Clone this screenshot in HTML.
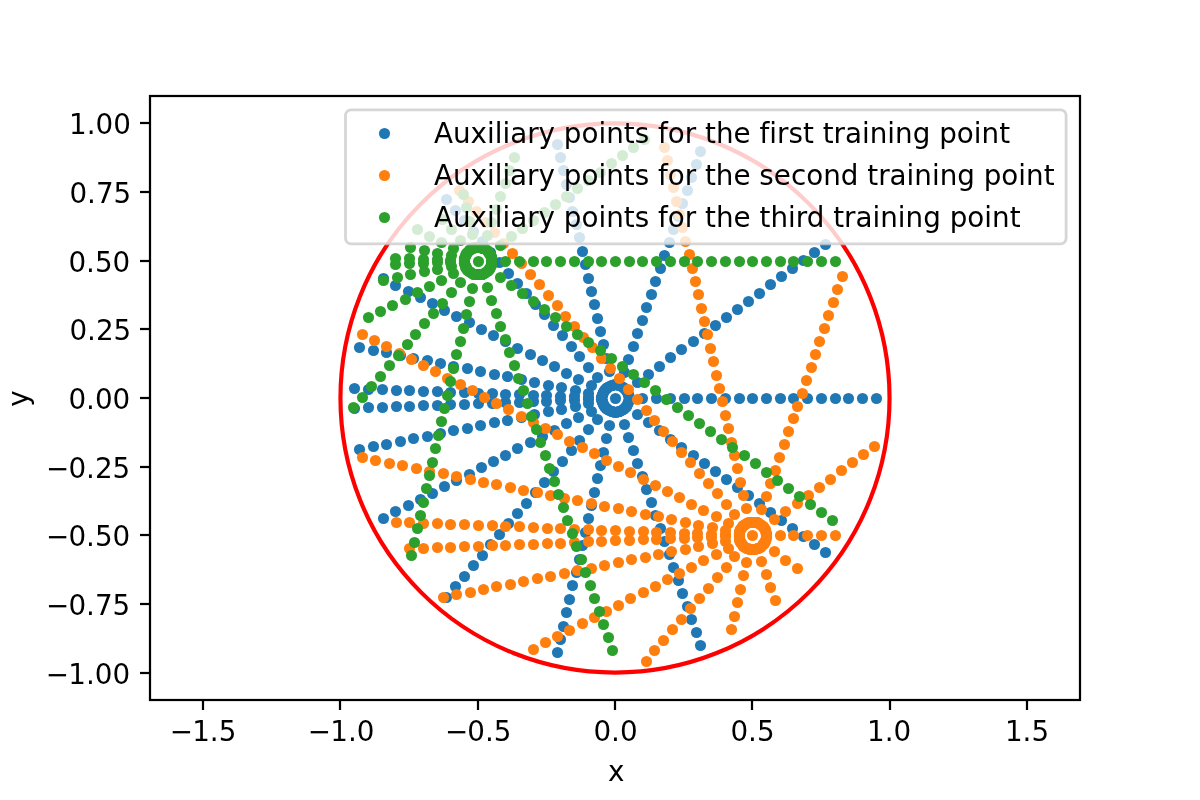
<!DOCTYPE html>
<html lang="en"><head><meta charset="utf-8"><title>Auxiliary points</title>
<style>html,body{margin:0;padding:0;background:#fff;}body{width:1200px;height:800px;overflow:hidden;}svg{display:block;}text{font-family:"DejaVu Sans","Liberation Sans",sans-serif;font-size:27.778px;fill:#000;font-variant-ligatures:none;font-feature-settings:"liga" 0,"clig" 0;}</style></head><body>
<svg width="1200" height="800" viewBox="0 0 1200 800">
<rect x="0" y="0" width="1200" height="800" fill="#ffffff"/>
<clipPath id="axclip"><rect x="150" y="96" width="930" height="604"/></clipPath>
<g clip-path="url(#axclip)">
<circle cx="614.996" cy="398.000" r="274.548" fill="none" stroke="#ff0000" stroke-width="4.167"/>
<g fill="#1f77b4">
<circle cx="629.5" cy="397.5" r="5.56"/>
<circle cx="628.5" cy="395.5" r="5.56"/>
<circle cx="628.5" cy="394.5" r="5.56"/>
<circle cx="627.5" cy="392.5" r="5.56"/>
<circle cx="626.5" cy="390.5" r="5.56"/>
<circle cx="625.5" cy="389.5" r="5.56"/>
<circle cx="624.5" cy="388.5" r="5.56"/>
<circle cx="623.5" cy="387.5" r="5.56"/>
<circle cx="621.5" cy="386.5" r="5.56"/>
<circle cx="619.5" cy="385.5" r="5.56"/>
<circle cx="618.5" cy="385.5" r="5.56"/>
<circle cx="616.5" cy="384.5" r="5.56"/>
<circle cx="614.5" cy="384.5" r="5.56"/>
<circle cx="612.5" cy="385.5" r="5.56"/>
<circle cx="611.5" cy="385.5" r="5.56"/>
<circle cx="609.5" cy="386.5" r="5.56"/>
<circle cx="607.5" cy="387.5" r="5.56"/>
<circle cx="606.5" cy="388.5" r="5.56"/>
<circle cx="605.5" cy="389.5" r="5.56"/>
<circle cx="604.5" cy="390.5" r="5.56"/>
<circle cx="603.5" cy="392.5" r="5.56"/>
<circle cx="602.5" cy="394.5" r="5.56"/>
<circle cx="602.5" cy="395.5" r="5.56"/>
<circle cx="601.5" cy="397.5" r="5.56"/>
<circle cx="601.5" cy="399.5" r="5.56"/>
<circle cx="602.5" cy="401.5" r="5.56"/>
<circle cx="602.5" cy="402.5" r="5.56"/>
<circle cx="603.5" cy="404.5" r="5.56"/>
<circle cx="604.5" cy="406.5" r="5.56"/>
<circle cx="605.5" cy="407.5" r="5.56"/>
<circle cx="606.5" cy="408.5" r="5.56"/>
<circle cx="607.5" cy="409.5" r="5.56"/>
<circle cx="609.5" cy="410.5" r="5.56"/>
<circle cx="611.5" cy="411.5" r="5.56"/>
<circle cx="612.5" cy="411.5" r="5.56"/>
<circle cx="614.5" cy="412.5" r="5.56"/>
<circle cx="616.5" cy="412.5" r="5.56"/>
<circle cx="618.5" cy="411.5" r="5.56"/>
<circle cx="619.5" cy="411.5" r="5.56"/>
<circle cx="621.5" cy="410.5" r="5.56"/>
<circle cx="623.5" cy="409.5" r="5.56"/>
<circle cx="624.5" cy="408.5" r="5.56"/>
<circle cx="625.5" cy="407.5" r="5.56"/>
<circle cx="626.5" cy="406.5" r="5.56"/>
<circle cx="627.5" cy="404.5" r="5.56"/>
<circle cx="628.5" cy="402.5" r="5.56"/>
<circle cx="628.5" cy="401.5" r="5.56"/>
<circle cx="629.5" cy="399.5" r="5.56"/>
<circle cx="615.5" cy="398.5" r="5.56"/>
<circle cx="601.5" cy="399.5" r="5.56"/>
<circle cx="588.5" cy="399.5" r="5.56"/>
<circle cx="574.5" cy="400.5" r="5.56"/>
<circle cx="560.5" cy="400.5" r="5.56"/>
<circle cx="546.5" cy="401.5" r="5.56"/>
<circle cx="533.5" cy="401.5" r="5.56"/>
<circle cx="519.5" cy="402.5" r="5.56"/>
<circle cx="505.5" cy="402.5" r="5.56"/>
<circle cx="492.5" cy="403.5" r="5.56"/>
<circle cx="478.5" cy="403.5" r="5.56"/>
<circle cx="464.5" cy="404.5" r="5.56"/>
<circle cx="450.5" cy="404.5" r="5.56"/>
<circle cx="437.5" cy="405.5" r="5.56"/>
<circle cx="423.5" cy="405.5" r="5.56"/>
<circle cx="409.5" cy="406.5" r="5.56"/>
<circle cx="396.5" cy="406.5" r="5.56"/>
<circle cx="382.5" cy="407.5" r="5.56"/>
<circle cx="368.5" cy="407.5" r="5.56"/>
<circle cx="354.5" cy="408.5" r="5.56"/>
<circle cx="602.5" cy="401.5" r="5.56"/>
<circle cx="588.5" cy="403.5" r="5.56"/>
<circle cx="575.5" cy="406.5" r="5.56"/>
<circle cx="561.5" cy="409.5" r="5.56"/>
<circle cx="548.5" cy="411.5" r="5.56"/>
<circle cx="534.5" cy="414.5" r="5.56"/>
<circle cx="521.5" cy="417.5" r="5.56"/>
<circle cx="507.5" cy="420.5" r="5.56"/>
<circle cx="494.5" cy="422.5" r="5.56"/>
<circle cx="480.5" cy="425.5" r="5.56"/>
<circle cx="467.5" cy="428.5" r="5.56"/>
<circle cx="453.5" cy="430.5" r="5.56"/>
<circle cx="440.5" cy="433.5" r="5.56"/>
<circle cx="427.5" cy="436.5" r="5.56"/>
<circle cx="413.5" cy="438.5" r="5.56"/>
<circle cx="400.5" cy="441.5" r="5.56"/>
<circle cx="386.5" cy="444.5" r="5.56"/>
<circle cx="373.5" cy="446.5" r="5.56"/>
<circle cx="359.5" cy="449.5" r="5.56"/>
<circle cx="603.5" cy="404.5" r="5.56"/>
<circle cx="591.5" cy="411.5" r="5.56"/>
<circle cx="578.5" cy="417.5" r="5.56"/>
<circle cx="566.5" cy="423.5" r="5.56"/>
<circle cx="554.5" cy="430.5" r="5.56"/>
<circle cx="542.5" cy="436.5" r="5.56"/>
<circle cx="530.5" cy="442.5" r="5.56"/>
<circle cx="517.5" cy="448.5" r="5.56"/>
<circle cx="505.5" cy="455.5" r="5.56"/>
<circle cx="493.5" cy="461.5" r="5.56"/>
<circle cx="481.5" cy="467.5" r="5.56"/>
<circle cx="469.5" cy="474.5" r="5.56"/>
<circle cx="456.5" cy="480.5" r="5.56"/>
<circle cx="444.5" cy="486.5" r="5.56"/>
<circle cx="432.5" cy="493.5" r="5.56"/>
<circle cx="420.5" cy="499.5" r="5.56"/>
<circle cx="408.5" cy="505.5" r="5.56"/>
<circle cx="395.5" cy="511.5" r="5.56"/>
<circle cx="383.5" cy="518.5" r="5.56"/>
<circle cx="606.5" cy="408.5" r="5.56"/>
<circle cx="597.5" cy="419.5" r="5.56"/>
<circle cx="588.5" cy="429.5" r="5.56"/>
<circle cx="579.5" cy="440.5" r="5.56"/>
<circle cx="571.5" cy="450.5" r="5.56"/>
<circle cx="562.5" cy="461.5" r="5.56"/>
<circle cx="553.5" cy="471.5" r="5.56"/>
<circle cx="544.5" cy="482.5" r="5.56"/>
<circle cx="535.5" cy="492.5" r="5.56"/>
<circle cx="526.5" cy="503.5" r="5.56"/>
<circle cx="517.5" cy="513.5" r="5.56"/>
<circle cx="508.5" cy="523.5" r="5.56"/>
<circle cx="499.5" cy="534.5" r="5.56"/>
<circle cx="490.5" cy="544.5" r="5.56"/>
<circle cx="482.5" cy="555.5" r="5.56"/>
<circle cx="473.5" cy="565.5" r="5.56"/>
<circle cx="464.5" cy="576.5" r="5.56"/>
<circle cx="455.5" cy="586.5" r="5.56"/>
<circle cx="446.5" cy="597.5" r="5.56"/>
<circle cx="612.5" cy="411.5" r="5.56"/>
<circle cx="609.5" cy="425.5" r="5.56"/>
<circle cx="606.5" cy="438.5" r="5.56"/>
<circle cx="603.5" cy="452.5" r="5.56"/>
<circle cx="600.5" cy="465.5" r="5.56"/>
<circle cx="597.5" cy="478.5" r="5.56"/>
<circle cx="594.5" cy="492.5" r="5.56"/>
<circle cx="591.5" cy="505.5" r="5.56"/>
<circle cx="588.5" cy="518.5" r="5.56"/>
<circle cx="585.5" cy="532.5" r="5.56"/>
<circle cx="582.5" cy="545.5" r="5.56"/>
<circle cx="579.5" cy="559.5" r="5.56"/>
<circle cx="576.5" cy="572.5" r="5.56"/>
<circle cx="572.5" cy="585.5" r="5.56"/>
<circle cx="569.5" cy="599.5" r="5.56"/>
<circle cx="566.5" cy="612.5" r="5.56"/>
<circle cx="563.5" cy="626.5" r="5.56"/>
<circle cx="560.5" cy="639.5" r="5.56"/>
<circle cx="557.5" cy="652.5" r="5.56"/>
<circle cx="619.5" cy="411.5" r="5.56"/>
<circle cx="624.5" cy="424.5" r="5.56"/>
<circle cx="628.5" cy="437.5" r="5.56"/>
<circle cx="633.5" cy="450.5" r="5.56"/>
<circle cx="637.5" cy="463.5" r="5.56"/>
<circle cx="642.5" cy="476.5" r="5.56"/>
<circle cx="646.5" cy="489.5" r="5.56"/>
<circle cx="651.5" cy="502.5" r="5.56"/>
<circle cx="655.5" cy="515.5" r="5.56"/>
<circle cx="660.5" cy="528.5" r="5.56"/>
<circle cx="664.5" cy="541.5" r="5.56"/>
<circle cx="669.5" cy="554.5" r="5.56"/>
<circle cx="673.5" cy="567.5" r="5.56"/>
<circle cx="678.5" cy="580.5" r="5.56"/>
<circle cx="682.5" cy="593.5" r="5.56"/>
<circle cx="687.5" cy="606.5" r="5.56"/>
<circle cx="691.5" cy="619.5" r="5.56"/>
<circle cx="696.5" cy="632.5" r="5.56"/>
<circle cx="700.5" cy="645.5" r="5.56"/>
<circle cx="626.5" cy="406.5" r="5.56"/>
<circle cx="637.5" cy="414.5" r="5.56"/>
<circle cx="648.5" cy="422.5" r="5.56"/>
<circle cx="659.5" cy="430.5" r="5.56"/>
<circle cx="670.5" cy="439.5" r="5.56"/>
<circle cx="681.5" cy="447.5" r="5.56"/>
<circle cx="693.5" cy="455.5" r="5.56"/>
<circle cx="704.5" cy="463.5" r="5.56"/>
<circle cx="715.5" cy="471.5" r="5.56"/>
<circle cx="726.5" cy="479.5" r="5.56"/>
<circle cx="737.5" cy="487.5" r="5.56"/>
<circle cx="748.5" cy="495.5" r="5.56"/>
<circle cx="759.5" cy="503.5" r="5.56"/>
<circle cx="770.5" cy="512.5" r="5.56"/>
<circle cx="781.5" cy="520.5" r="5.56"/>
<circle cx="792.5" cy="528.5" r="5.56"/>
<circle cx="803.5" cy="536.5" r="5.56"/>
<circle cx="814.5" cy="544.5" r="5.56"/>
<circle cx="825.5" cy="552.5" r="5.56"/>
<circle cx="629.5" cy="398.5" r="5.56"/>
<circle cx="642.5" cy="398.5" r="5.56"/>
<circle cx="656.5" cy="398.5" r="5.56"/>
<circle cx="670.5" cy="398.5" r="5.56"/>
<circle cx="684.5" cy="398.5" r="5.56"/>
<circle cx="697.5" cy="398.5" r="5.56"/>
<circle cx="711.5" cy="398.5" r="5.56"/>
<circle cx="725.5" cy="398.5" r="5.56"/>
<circle cx="739.5" cy="398.5" r="5.56"/>
<circle cx="752.5" cy="398.5" r="5.56"/>
<circle cx="766.5" cy="398.5" r="5.56"/>
<circle cx="780.5" cy="398.5" r="5.56"/>
<circle cx="793.5" cy="398.5" r="5.56"/>
<circle cx="807.5" cy="398.5" r="5.56"/>
<circle cx="821.5" cy="398.5" r="5.56"/>
<circle cx="835.5" cy="398.5" r="5.56"/>
<circle cx="848.5" cy="398.5" r="5.56"/>
<circle cx="862.5" cy="398.5" r="5.56"/>
<circle cx="876.5" cy="398.5" r="5.56"/>
<circle cx="626.5" cy="390.5" r="5.56"/>
<circle cx="637.5" cy="382.5" r="5.56"/>
<circle cx="648.5" cy="374.5" r="5.56"/>
<circle cx="659.5" cy="366.5" r="5.56"/>
<circle cx="670.5" cy="357.5" r="5.56"/>
<circle cx="681.5" cy="349.5" r="5.56"/>
<circle cx="693.5" cy="341.5" r="5.56"/>
<circle cx="704.5" cy="333.5" r="5.56"/>
<circle cx="715.5" cy="325.5" r="5.56"/>
<circle cx="726.5" cy="317.5" r="5.56"/>
<circle cx="737.5" cy="309.5" r="5.56"/>
<circle cx="748.5" cy="301.5" r="5.56"/>
<circle cx="759.5" cy="293.5" r="5.56"/>
<circle cx="770.5" cy="284.5" r="5.56"/>
<circle cx="781.5" cy="276.5" r="5.56"/>
<circle cx="792.5" cy="268.5" r="5.56"/>
<circle cx="803.5" cy="260.5" r="5.56"/>
<circle cx="814.5" cy="252.5" r="5.56"/>
<circle cx="825.5" cy="244.5" r="5.56"/>
<circle cx="619.5" cy="385.5" r="5.56"/>
<circle cx="624.5" cy="372.5" r="5.56"/>
<circle cx="628.5" cy="359.5" r="5.56"/>
<circle cx="633.5" cy="346.5" r="5.56"/>
<circle cx="637.5" cy="333.5" r="5.56"/>
<circle cx="642.5" cy="320.5" r="5.56"/>
<circle cx="646.5" cy="307.5" r="5.56"/>
<circle cx="651.5" cy="294.5" r="5.56"/>
<circle cx="655.5" cy="281.5" r="5.56"/>
<circle cx="660.5" cy="268.5" r="5.56"/>
<circle cx="664.5" cy="255.5" r="5.56"/>
<circle cx="669.5" cy="242.5" r="5.56"/>
<circle cx="673.5" cy="229.5" r="5.56"/>
<circle cx="678.5" cy="216.5" r="5.56"/>
<circle cx="682.5" cy="203.5" r="5.56"/>
<circle cx="687.5" cy="190.5" r="5.56"/>
<circle cx="691.5" cy="177.5" r="5.56"/>
<circle cx="696.5" cy="164.5" r="5.56"/>
<circle cx="700.5" cy="151.5" r="5.56"/>
<circle cx="612.5" cy="385.5" r="5.56"/>
<circle cx="609.5" cy="371.5" r="5.56"/>
<circle cx="606.5" cy="358.5" r="5.56"/>
<circle cx="603.5" cy="344.5" r="5.56"/>
<circle cx="600.5" cy="331.5" r="5.56"/>
<circle cx="597.5" cy="318.5" r="5.56"/>
<circle cx="594.5" cy="304.5" r="5.56"/>
<circle cx="591.5" cy="291.5" r="5.56"/>
<circle cx="588.5" cy="278.5" r="5.56"/>
<circle cx="585.5" cy="264.5" r="5.56"/>
<circle cx="582.5" cy="251.5" r="5.56"/>
<circle cx="579.5" cy="237.5" r="5.56"/>
<circle cx="576.5" cy="224.5" r="5.56"/>
<circle cx="572.5" cy="211.5" r="5.56"/>
<circle cx="569.5" cy="197.5" r="5.56"/>
<circle cx="566.5" cy="184.5" r="5.56"/>
<circle cx="563.5" cy="170.5" r="5.56"/>
<circle cx="560.5" cy="157.5" r="5.56"/>
<circle cx="557.5" cy="144.5" r="5.56"/>
<circle cx="606.5" cy="388.5" r="5.56"/>
<circle cx="597.5" cy="377.5" r="5.56"/>
<circle cx="588.5" cy="367.5" r="5.56"/>
<circle cx="579.5" cy="356.5" r="5.56"/>
<circle cx="571.5" cy="346.5" r="5.56"/>
<circle cx="562.5" cy="335.5" r="5.56"/>
<circle cx="553.5" cy="325.5" r="5.56"/>
<circle cx="544.5" cy="314.5" r="5.56"/>
<circle cx="535.5" cy="304.5" r="5.56"/>
<circle cx="526.5" cy="293.5" r="5.56"/>
<circle cx="517.5" cy="283.5" r="5.56"/>
<circle cx="508.5" cy="273.5" r="5.56"/>
<circle cx="499.5" cy="262.5" r="5.56"/>
<circle cx="490.5" cy="252.5" r="5.56"/>
<circle cx="482.5" cy="241.5" r="5.56"/>
<circle cx="473.5" cy="231.5" r="5.56"/>
<circle cx="464.5" cy="220.5" r="5.56"/>
<circle cx="455.5" cy="210.5" r="5.56"/>
<circle cx="446.5" cy="199.5" r="5.56"/>
<circle cx="603.5" cy="392.5" r="5.56"/>
<circle cx="591.5" cy="385.5" r="5.56"/>
<circle cx="578.5" cy="379.5" r="5.56"/>
<circle cx="566.5" cy="373.5" r="5.56"/>
<circle cx="554.5" cy="366.5" r="5.56"/>
<circle cx="542.5" cy="360.5" r="5.56"/>
<circle cx="530.5" cy="354.5" r="5.56"/>
<circle cx="517.5" cy="348.5" r="5.56"/>
<circle cx="505.5" cy="341.5" r="5.56"/>
<circle cx="493.5" cy="335.5" r="5.56"/>
<circle cx="481.5" cy="329.5" r="5.56"/>
<circle cx="469.5" cy="322.5" r="5.56"/>
<circle cx="456.5" cy="316.5" r="5.56"/>
<circle cx="444.5" cy="310.5" r="5.56"/>
<circle cx="432.5" cy="303.5" r="5.56"/>
<circle cx="420.5" cy="297.5" r="5.56"/>
<circle cx="408.5" cy="291.5" r="5.56"/>
<circle cx="395.5" cy="285.5" r="5.56"/>
<circle cx="383.5" cy="278.5" r="5.56"/>
<circle cx="602.5" cy="395.5" r="5.56"/>
<circle cx="588.5" cy="393.5" r="5.56"/>
<circle cx="575.5" cy="390.5" r="5.56"/>
<circle cx="561.5" cy="387.5" r="5.56"/>
<circle cx="548.5" cy="385.5" r="5.56"/>
<circle cx="534.5" cy="382.5" r="5.56"/>
<circle cx="521.5" cy="379.5" r="5.56"/>
<circle cx="507.5" cy="376.5" r="5.56"/>
<circle cx="494.5" cy="374.5" r="5.56"/>
<circle cx="480.5" cy="371.5" r="5.56"/>
<circle cx="467.5" cy="368.5" r="5.56"/>
<circle cx="453.5" cy="366.5" r="5.56"/>
<circle cx="440.5" cy="363.5" r="5.56"/>
<circle cx="427.5" cy="360.5" r="5.56"/>
<circle cx="413.5" cy="358.5" r="5.56"/>
<circle cx="400.5" cy="355.5" r="5.56"/>
<circle cx="386.5" cy="352.5" r="5.56"/>
<circle cx="373.5" cy="350.5" r="5.56"/>
<circle cx="359.5" cy="347.5" r="5.56"/>
<circle cx="601.5" cy="397.5" r="5.56"/>
<circle cx="588.5" cy="397.5" r="5.56"/>
<circle cx="574.5" cy="396.5" r="5.56"/>
<circle cx="560.5" cy="396.5" r="5.56"/>
<circle cx="546.5" cy="395.5" r="5.56"/>
<circle cx="533.5" cy="395.5" r="5.56"/>
<circle cx="519.5" cy="394.5" r="5.56"/>
<circle cx="505.5" cy="394.5" r="5.56"/>
<circle cx="492.5" cy="393.5" r="5.56"/>
<circle cx="478.5" cy="393.5" r="5.56"/>
<circle cx="464.5" cy="392.5" r="5.56"/>
<circle cx="450.5" cy="392.5" r="5.56"/>
<circle cx="437.5" cy="391.5" r="5.56"/>
<circle cx="423.5" cy="391.5" r="5.56"/>
<circle cx="409.5" cy="390.5" r="5.56"/>
<circle cx="396.5" cy="390.5" r="5.56"/>
<circle cx="382.5" cy="389.5" r="5.56"/>
<circle cx="368.5" cy="389.5" r="5.56"/>
<circle cx="354.5" cy="388.5" r="5.56"/>
</g>
<g fill="#ff7f0e">
<circle cx="766.5" cy="534.5" r="5.56"/>
<circle cx="766.5" cy="533.5" r="5.56"/>
<circle cx="765.5" cy="531.5" r="5.56"/>
<circle cx="765.5" cy="529.5" r="5.56"/>
<circle cx="764.5" cy="528.5" r="5.56"/>
<circle cx="763.5" cy="526.5" r="5.56"/>
<circle cx="761.5" cy="525.5" r="5.56"/>
<circle cx="760.5" cy="524.5" r="5.56"/>
<circle cx="758.5" cy="523.5" r="5.56"/>
<circle cx="757.5" cy="522.5" r="5.56"/>
<circle cx="755.5" cy="522.5" r="5.56"/>
<circle cx="753.5" cy="522.5" r="5.56"/>
<circle cx="751.5" cy="522.5" r="5.56"/>
<circle cx="750.5" cy="522.5" r="5.56"/>
<circle cx="748.5" cy="522.5" r="5.56"/>
<circle cx="746.5" cy="523.5" r="5.56"/>
<circle cx="745.5" cy="524.5" r="5.56"/>
<circle cx="743.5" cy="525.5" r="5.56"/>
<circle cx="742.5" cy="526.5" r="5.56"/>
<circle cx="741.5" cy="528.5" r="5.56"/>
<circle cx="740.5" cy="529.5" r="5.56"/>
<circle cx="739.5" cy="531.5" r="5.56"/>
<circle cx="739.5" cy="533.5" r="5.56"/>
<circle cx="739.5" cy="534.5" r="5.56"/>
<circle cx="739.5" cy="536.5" r="5.56"/>
<circle cx="739.5" cy="538.5" r="5.56"/>
<circle cx="739.5" cy="540.5" r="5.56"/>
<circle cx="740.5" cy="541.5" r="5.56"/>
<circle cx="741.5" cy="543.5" r="5.56"/>
<circle cx="742.5" cy="544.5" r="5.56"/>
<circle cx="743.5" cy="546.5" r="5.56"/>
<circle cx="745.5" cy="547.5" r="5.56"/>
<circle cx="746.5" cy="548.5" r="5.56"/>
<circle cx="748.5" cy="548.5" r="5.56"/>
<circle cx="750.5" cy="549.5" r="5.56"/>
<circle cx="751.5" cy="549.5" r="5.56"/>
<circle cx="753.5" cy="549.5" r="5.56"/>
<circle cx="755.5" cy="549.5" r="5.56"/>
<circle cx="757.5" cy="548.5" r="5.56"/>
<circle cx="758.5" cy="548.5" r="5.56"/>
<circle cx="760.5" cy="547.5" r="5.56"/>
<circle cx="761.5" cy="546.5" r="5.56"/>
<circle cx="763.5" cy="544.5" r="5.56"/>
<circle cx="764.5" cy="543.5" r="5.56"/>
<circle cx="765.5" cy="541.5" r="5.56"/>
<circle cx="765.5" cy="540.5" r="5.56"/>
<circle cx="766.5" cy="538.5" r="5.56"/>
<circle cx="766.5" cy="536.5" r="5.56"/>
<circle cx="752.5" cy="535.5" r="5.56"/>
<circle cx="739.5" cy="536.5" r="5.56"/>
<circle cx="725.5" cy="536.5" r="5.56"/>
<circle cx="711.5" cy="537.5" r="5.56"/>
<circle cx="697.5" cy="537.5" r="5.56"/>
<circle cx="684.5" cy="538.5" r="5.56"/>
<circle cx="670.5" cy="538.5" r="5.56"/>
<circle cx="656.5" cy="539.5" r="5.56"/>
<circle cx="643.5" cy="539.5" r="5.56"/>
<circle cx="629.5" cy="540.5" r="5.56"/>
<circle cx="615.5" cy="540.5" r="5.56"/>
<circle cx="601.5" cy="541.5" r="5.56"/>
<circle cx="588.5" cy="541.5" r="5.56"/>
<circle cx="574.5" cy="542.5" r="5.56"/>
<circle cx="560.5" cy="543.5" r="5.56"/>
<circle cx="547.5" cy="543.5" r="5.56"/>
<circle cx="533.5" cy="544.5" r="5.56"/>
<circle cx="519.5" cy="544.5" r="5.56"/>
<circle cx="505.5" cy="545.5" r="5.56"/>
<circle cx="492.5" cy="545.5" r="5.56"/>
<circle cx="478.5" cy="546.5" r="5.56"/>
<circle cx="464.5" cy="546.5" r="5.56"/>
<circle cx="450.5" cy="547.5" r="5.56"/>
<circle cx="437.5" cy="547.5" r="5.56"/>
<circle cx="423.5" cy="548.5" r="5.56"/>
<circle cx="409.5" cy="548.5" r="5.56"/>
<circle cx="739.5" cy="538.5" r="5.56"/>
<circle cx="725.5" cy="541.5" r="5.56"/>
<circle cx="712.5" cy="543.5" r="5.56"/>
<circle cx="698.5" cy="546.5" r="5.56"/>
<circle cx="685.5" cy="549.5" r="5.56"/>
<circle cx="671.5" cy="551.5" r="5.56"/>
<circle cx="658.5" cy="554.5" r="5.56"/>
<circle cx="645.5" cy="557.5" r="5.56"/>
<circle cx="631.5" cy="559.5" r="5.56"/>
<circle cx="618.5" cy="562.5" r="5.56"/>
<circle cx="604.5" cy="565.5" r="5.56"/>
<circle cx="591.5" cy="568.5" r="5.56"/>
<circle cx="577.5" cy="570.5" r="5.56"/>
<circle cx="564.5" cy="573.5" r="5.56"/>
<circle cx="550.5" cy="576.5" r="5.56"/>
<circle cx="537.5" cy="578.5" r="5.56"/>
<circle cx="523.5" cy="581.5" r="5.56"/>
<circle cx="510.5" cy="584.5" r="5.56"/>
<circle cx="496.5" cy="586.5" r="5.56"/>
<circle cx="483.5" cy="589.5" r="5.56"/>
<circle cx="470.5" cy="592.5" r="5.56"/>
<circle cx="456.5" cy="594.5" r="5.56"/>
<circle cx="443.5" cy="597.5" r="5.56"/>
<circle cx="740.5" cy="542.5" r="5.56"/>
<circle cx="728.5" cy="548.5" r="5.56"/>
<circle cx="716.5" cy="554.5" r="5.56"/>
<circle cx="703.5" cy="560.5" r="5.56"/>
<circle cx="691.5" cy="567.5" r="5.56"/>
<circle cx="679.5" cy="573.5" r="5.56"/>
<circle cx="667.5" cy="579.5" r="5.56"/>
<circle cx="655.5" cy="586.5" r="5.56"/>
<circle cx="643.5" cy="592.5" r="5.56"/>
<circle cx="630.5" cy="598.5" r="5.56"/>
<circle cx="618.5" cy="605.5" r="5.56"/>
<circle cx="606.5" cy="611.5" r="5.56"/>
<circle cx="594.5" cy="617.5" r="5.56"/>
<circle cx="582.5" cy="623.5" r="5.56"/>
<circle cx="569.5" cy="630.5" r="5.56"/>
<circle cx="557.5" cy="636.5" r="5.56"/>
<circle cx="545.5" cy="642.5" r="5.56"/>
<circle cx="533.5" cy="649.5" r="5.56"/>
<circle cx="743.5" cy="546.5" r="5.56"/>
<circle cx="734.5" cy="556.5" r="5.56"/>
<circle cx="726.5" cy="567.5" r="5.56"/>
<circle cx="717.5" cy="577.5" r="5.56"/>
<circle cx="708.5" cy="588.5" r="5.56"/>
<circle cx="699.5" cy="598.5" r="5.56"/>
<circle cx="690.5" cy="608.5" r="5.56"/>
<circle cx="681.5" cy="619.5" r="5.56"/>
<circle cx="672.5" cy="629.5" r="5.56"/>
<circle cx="663.5" cy="640.5" r="5.56"/>
<circle cx="654.5" cy="650.5" r="5.56"/>
<circle cx="646.5" cy="661.5" r="5.56"/>
<circle cx="749.5" cy="549.5" r="5.56"/>
<circle cx="746.5" cy="562.5" r="5.56"/>
<circle cx="743.5" cy="575.5" r="5.56"/>
<circle cx="740.5" cy="589.5" r="5.56"/>
<circle cx="737.5" cy="602.5" r="5.56"/>
<circle cx="734.5" cy="616.5" r="5.56"/>
<circle cx="731.5" cy="629.5" r="5.56"/>
<circle cx="757.5" cy="548.5" r="5.56"/>
<circle cx="761.5" cy="561.5" r="5.56"/>
<circle cx="766.5" cy="574.5" r="5.56"/>
<circle cx="770.5" cy="587.5" r="5.56"/>
<circle cx="775.5" cy="600.5" r="5.56"/>
<circle cx="763.5" cy="543.5" r="5.56"/>
<circle cx="774.5" cy="551.5" r="5.56"/>
<circle cx="785.5" cy="560.5" r="5.56"/>
<circle cx="797.5" cy="568.5" r="5.56"/>
<circle cx="766.5" cy="535.5" r="5.56"/>
<circle cx="780.5" cy="535.5" r="5.56"/>
<circle cx="793.5" cy="535.5" r="5.56"/>
<circle cx="807.5" cy="535.5" r="5.56"/>
<circle cx="821.5" cy="535.5" r="5.56"/>
<circle cx="835.5" cy="535.5" r="5.56"/>
<circle cx="763.5" cy="527.5" r="5.56"/>
<circle cx="774.5" cy="519.5" r="5.56"/>
<circle cx="785.5" cy="511.5" r="5.56"/>
<circle cx="797.5" cy="503.5" r="5.56"/>
<circle cx="808.5" cy="495.5" r="5.56"/>
<circle cx="819.5" cy="487.5" r="5.56"/>
<circle cx="830.5" cy="479.5" r="5.56"/>
<circle cx="841.5" cy="470.5" r="5.56"/>
<circle cx="852.5" cy="462.5" r="5.56"/>
<circle cx="863.5" cy="454.5" r="5.56"/>
<circle cx="874.5" cy="446.5" r="5.56"/>
<circle cx="757.5" cy="522.5" r="5.56"/>
<circle cx="761.5" cy="509.5" r="5.56"/>
<circle cx="766.5" cy="496.5" r="5.56"/>
<circle cx="770.5" cy="483.5" r="5.56"/>
<circle cx="775.5" cy="470.5" r="5.56"/>
<circle cx="779.5" cy="457.5" r="5.56"/>
<circle cx="784.5" cy="444.5" r="5.56"/>
<circle cx="788.5" cy="431.5" r="5.56"/>
<circle cx="793.5" cy="418.5" r="5.56"/>
<circle cx="797.5" cy="406.5" r="5.56"/>
<circle cx="802.5" cy="393.5" r="5.56"/>
<circle cx="806.5" cy="380.5" r="5.56"/>
<circle cx="811.5" cy="367.5" r="5.56"/>
<circle cx="815.5" cy="354.5" r="5.56"/>
<circle cx="819.5" cy="341.5" r="5.56"/>
<circle cx="824.5" cy="328.5" r="5.56"/>
<circle cx="828.5" cy="315.5" r="5.56"/>
<circle cx="833.5" cy="302.5" r="5.56"/>
<circle cx="837.5" cy="289.5" r="5.56"/>
<circle cx="842.5" cy="276.5" r="5.56"/>
<circle cx="749.5" cy="522.5" r="5.56"/>
<circle cx="746.5" cy="508.5" r="5.56"/>
<circle cx="743.5" cy="495.5" r="5.56"/>
<circle cx="740.5" cy="482.5" r="5.56"/>
<circle cx="737.5" cy="468.5" r="5.56"/>
<circle cx="734.5" cy="455.5" r="5.56"/>
<circle cx="731.5" cy="442.5" r="5.56"/>
<circle cx="728.5" cy="428.5" r="5.56"/>
<circle cx="725.5" cy="415.5" r="5.56"/>
<circle cx="722.5" cy="401.5" r="5.56"/>
<circle cx="719.5" cy="388.5" r="5.56"/>
<circle cx="716.5" cy="375.5" r="5.56"/>
<circle cx="713.5" cy="361.5" r="5.56"/>
<circle cx="710.5" cy="348.5" r="5.56"/>
<circle cx="707.5" cy="334.5" r="5.56"/>
<circle cx="704.5" cy="321.5" r="5.56"/>
<circle cx="701.5" cy="308.5" r="5.56"/>
<circle cx="698.5" cy="294.5" r="5.56"/>
<circle cx="695.5" cy="281.5" r="5.56"/>
<circle cx="692.5" cy="268.5" r="5.56"/>
<circle cx="689.5" cy="254.5" r="5.56"/>
<circle cx="685.5" cy="241.5" r="5.56"/>
<circle cx="682.5" cy="227.5" r="5.56"/>
<circle cx="679.5" cy="214.5" r="5.56"/>
<circle cx="676.5" cy="201.5" r="5.56"/>
<circle cx="673.5" cy="187.5" r="5.56"/>
<circle cx="670.5" cy="174.5" r="5.56"/>
<circle cx="667.5" cy="160.5" r="5.56"/>
<circle cx="664.5" cy="147.5" r="5.56"/>
<circle cx="743.5" cy="525.5" r="5.56"/>
<circle cx="734.5" cy="514.5" r="5.56"/>
<circle cx="726.5" cy="504.5" r="5.56"/>
<circle cx="717.5" cy="493.5" r="5.56"/>
<circle cx="708.5" cy="483.5" r="5.56"/>
<circle cx="699.5" cy="473.5" r="5.56"/>
<circle cx="690.5" cy="462.5" r="5.56"/>
<circle cx="681.5" cy="452.5" r="5.56"/>
<circle cx="672.5" cy="441.5" r="5.56"/>
<circle cx="663.5" cy="431.5" r="5.56"/>
<circle cx="654.5" cy="420.5" r="5.56"/>
<circle cx="646.5" cy="410.5" r="5.56"/>
<circle cx="637.5" cy="399.5" r="5.56"/>
<circle cx="628.5" cy="389.5" r="5.56"/>
<circle cx="619.5" cy="378.5" r="5.56"/>
<circle cx="610.5" cy="368.5" r="5.56"/>
<circle cx="601.5" cy="358.5" r="5.56"/>
<circle cx="592.5" cy="347.5" r="5.56"/>
<circle cx="583.5" cy="337.5" r="5.56"/>
<circle cx="574.5" cy="326.5" r="5.56"/>
<circle cx="565.5" cy="316.5" r="5.56"/>
<circle cx="557.5" cy="305.5" r="5.56"/>
<circle cx="548.5" cy="295.5" r="5.56"/>
<circle cx="539.5" cy="284.5" r="5.56"/>
<circle cx="530.5" cy="274.5" r="5.56"/>
<circle cx="521.5" cy="263.5" r="5.56"/>
<circle cx="512.5" cy="253.5" r="5.56"/>
<circle cx="503.5" cy="243.5" r="5.56"/>
<circle cx="494.5" cy="232.5" r="5.56"/>
<circle cx="485.5" cy="222.5" r="5.56"/>
<circle cx="476.5" cy="211.5" r="5.56"/>
<circle cx="468.5" cy="201.5" r="5.56"/>
<circle cx="459.5" cy="190.5" r="5.56"/>
<circle cx="740.5" cy="529.5" r="5.56"/>
<circle cx="728.5" cy="523.5" r="5.56"/>
<circle cx="716.5" cy="516.5" r="5.56"/>
<circle cx="703.5" cy="510.5" r="5.56"/>
<circle cx="691.5" cy="504.5" r="5.56"/>
<circle cx="679.5" cy="497.5" r="5.56"/>
<circle cx="667.5" cy="491.5" r="5.56"/>
<circle cx="655.5" cy="485.5" r="5.56"/>
<circle cx="643.5" cy="479.5" r="5.56"/>
<circle cx="630.5" cy="472.5" r="5.56"/>
<circle cx="618.5" cy="466.5" r="5.56"/>
<circle cx="606.5" cy="460.5" r="5.56"/>
<circle cx="594.5" cy="453.5" r="5.56"/>
<circle cx="582.5" cy="447.5" r="5.56"/>
<circle cx="569.5" cy="441.5" r="5.56"/>
<circle cx="557.5" cy="434.5" r="5.56"/>
<circle cx="545.5" cy="428.5" r="5.56"/>
<circle cx="533.5" cy="422.5" r="5.56"/>
<circle cx="521.5" cy="416.5" r="5.56"/>
<circle cx="508.5" cy="409.5" r="5.56"/>
<circle cx="496.5" cy="403.5" r="5.56"/>
<circle cx="484.5" cy="397.5" r="5.56"/>
<circle cx="472.5" cy="390.5" r="5.56"/>
<circle cx="460.5" cy="384.5" r="5.56"/>
<circle cx="447.5" cy="378.5" r="5.56"/>
<circle cx="435.5" cy="371.5" r="5.56"/>
<circle cx="423.5" cy="365.5" r="5.56"/>
<circle cx="411.5" cy="359.5" r="5.56"/>
<circle cx="399.5" cy="353.5" r="5.56"/>
<circle cx="386.5" cy="346.5" r="5.56"/>
<circle cx="374.5" cy="340.5" r="5.56"/>
<circle cx="362.5" cy="334.5" r="5.56"/>
<circle cx="739.5" cy="533.5" r="5.56"/>
<circle cx="725.5" cy="530.5" r="5.56"/>
<circle cx="712.5" cy="527.5" r="5.56"/>
<circle cx="698.5" cy="525.5" r="5.56"/>
<circle cx="685.5" cy="522.5" r="5.56"/>
<circle cx="671.5" cy="519.5" r="5.56"/>
<circle cx="658.5" cy="516.5" r="5.56"/>
<circle cx="645.5" cy="514.5" r="5.56"/>
<circle cx="631.5" cy="511.5" r="5.56"/>
<circle cx="618.5" cy="508.5" r="5.56"/>
<circle cx="604.5" cy="506.5" r="5.56"/>
<circle cx="591.5" cy="503.5" r="5.56"/>
<circle cx="577.5" cy="500.5" r="5.56"/>
<circle cx="564.5" cy="498.5" r="5.56"/>
<circle cx="550.5" cy="495.5" r="5.56"/>
<circle cx="537.5" cy="492.5" r="5.56"/>
<circle cx="523.5" cy="490.5" r="5.56"/>
<circle cx="510.5" cy="487.5" r="5.56"/>
<circle cx="496.5" cy="484.5" r="5.56"/>
<circle cx="483.5" cy="482.5" r="5.56"/>
<circle cx="470.5" cy="479.5" r="5.56"/>
<circle cx="456.5" cy="476.5" r="5.56"/>
<circle cx="443.5" cy="473.5" r="5.56"/>
<circle cx="429.5" cy="471.5" r="5.56"/>
<circle cx="416.5" cy="468.5" r="5.56"/>
<circle cx="402.5" cy="465.5" r="5.56"/>
<circle cx="389.5" cy="463.5" r="5.56"/>
<circle cx="375.5" cy="460.5" r="5.56"/>
<circle cx="362.5" cy="457.5" r="5.56"/>
<circle cx="739.5" cy="535.5" r="5.56"/>
<circle cx="725.5" cy="534.5" r="5.56"/>
<circle cx="711.5" cy="534.5" r="5.56"/>
<circle cx="697.5" cy="533.5" r="5.56"/>
<circle cx="684.5" cy="533.5" r="5.56"/>
<circle cx="670.5" cy="532.5" r="5.56"/>
<circle cx="656.5" cy="532.5" r="5.56"/>
<circle cx="643.5" cy="531.5" r="5.56"/>
<circle cx="629.5" cy="531.5" r="5.56"/>
<circle cx="615.5" cy="530.5" r="5.56"/>
<circle cx="601.5" cy="530.5" r="5.56"/>
<circle cx="588.5" cy="529.5" r="5.56"/>
<circle cx="574.5" cy="529.5" r="5.56"/>
<circle cx="560.5" cy="528.5" r="5.56"/>
<circle cx="547.5" cy="528.5" r="5.56"/>
<circle cx="533.5" cy="527.5" r="5.56"/>
<circle cx="519.5" cy="526.5" r="5.56"/>
<circle cx="505.5" cy="526.5" r="5.56"/>
<circle cx="492.5" cy="525.5" r="5.56"/>
<circle cx="478.5" cy="525.5" r="5.56"/>
<circle cx="464.5" cy="524.5" r="5.56"/>
<circle cx="450.5" cy="524.5" r="5.56"/>
<circle cx="437.5" cy="523.5" r="5.56"/>
<circle cx="423.5" cy="523.5" r="5.56"/>
<circle cx="409.5" cy="522.5" r="5.56"/>
<circle cx="396.5" cy="522.5" r="5.56"/>
</g>
<g fill="#2ca02c">
<circle cx="491.5" cy="260.5" r="5.56"/>
<circle cx="491.5" cy="258.5" r="5.56"/>
<circle cx="491.5" cy="256.5" r="5.56"/>
<circle cx="490.5" cy="255.5" r="5.56"/>
<circle cx="489.5" cy="253.5" r="5.56"/>
<circle cx="488.5" cy="252.5" r="5.56"/>
<circle cx="487.5" cy="250.5" r="5.56"/>
<circle cx="485.5" cy="249.5" r="5.56"/>
<circle cx="484.5" cy="248.5" r="5.56"/>
<circle cx="482.5" cy="248.5" r="5.56"/>
<circle cx="480.5" cy="247.5" r="5.56"/>
<circle cx="479.5" cy="247.5" r="5.56"/>
<circle cx="477.5" cy="247.5" r="5.56"/>
<circle cx="475.5" cy="247.5" r="5.56"/>
<circle cx="473.5" cy="248.5" r="5.56"/>
<circle cx="472.5" cy="248.5" r="5.56"/>
<circle cx="470.5" cy="249.5" r="5.56"/>
<circle cx="469.5" cy="250.5" r="5.56"/>
<circle cx="467.5" cy="252.5" r="5.56"/>
<circle cx="466.5" cy="253.5" r="5.56"/>
<circle cx="465.5" cy="255.5" r="5.56"/>
<circle cx="465.5" cy="256.5" r="5.56"/>
<circle cx="464.5" cy="258.5" r="5.56"/>
<circle cx="464.5" cy="260.5" r="5.56"/>
<circle cx="464.5" cy="262.5" r="5.56"/>
<circle cx="464.5" cy="263.5" r="5.56"/>
<circle cx="465.5" cy="265.5" r="5.56"/>
<circle cx="465.5" cy="267.5" r="5.56"/>
<circle cx="466.5" cy="268.5" r="5.56"/>
<circle cx="467.5" cy="270.5" r="5.56"/>
<circle cx="469.5" cy="271.5" r="5.56"/>
<circle cx="470.5" cy="272.5" r="5.56"/>
<circle cx="472.5" cy="273.5" r="5.56"/>
<circle cx="473.5" cy="274.5" r="5.56"/>
<circle cx="475.5" cy="274.5" r="5.56"/>
<circle cx="477.5" cy="274.5" r="5.56"/>
<circle cx="479.5" cy="274.5" r="5.56"/>
<circle cx="480.5" cy="274.5" r="5.56"/>
<circle cx="482.5" cy="274.5" r="5.56"/>
<circle cx="484.5" cy="273.5" r="5.56"/>
<circle cx="485.5" cy="272.5" r="5.56"/>
<circle cx="487.5" cy="271.5" r="5.56"/>
<circle cx="488.5" cy="270.5" r="5.56"/>
<circle cx="489.5" cy="268.5" r="5.56"/>
<circle cx="490.5" cy="267.5" r="5.56"/>
<circle cx="491.5" cy="265.5" r="5.56"/>
<circle cx="491.5" cy="263.5" r="5.56"/>
<circle cx="491.5" cy="262.5" r="5.56"/>
<circle cx="478.5" cy="261.5" r="5.56"/>
<circle cx="464.5" cy="261.5" r="5.56"/>
<circle cx="450.5" cy="262.5" r="5.56"/>
<circle cx="437.5" cy="262.5" r="5.56"/>
<circle cx="423.5" cy="263.5" r="5.56"/>
<circle cx="409.5" cy="263.5" r="5.56"/>
<circle cx="395.5" cy="264.5" r="5.56"/>
<circle cx="464.5" cy="263.5" r="5.56"/>
<circle cx="451.5" cy="266.5" r="5.56"/>
<circle cx="437.5" cy="269.5" r="5.56"/>
<circle cx="424.5" cy="271.5" r="5.56"/>
<circle cx="410.5" cy="274.5" r="5.56"/>
<circle cx="397.5" cy="277.5" r="5.56"/>
<circle cx="383.5" cy="280.5" r="5.56"/>
<circle cx="466.5" cy="267.5" r="5.56"/>
<circle cx="453.5" cy="273.5" r="5.56"/>
<circle cx="441.5" cy="280.5" r="5.56"/>
<circle cx="429.5" cy="286.5" r="5.56"/>
<circle cx="417.5" cy="292.5" r="5.56"/>
<circle cx="405.5" cy="299.5" r="5.56"/>
<circle cx="392.5" cy="305.5" r="5.56"/>
<circle cx="380.5" cy="311.5" r="5.56"/>
<circle cx="368.5" cy="317.5" r="5.56"/>
<circle cx="469.5" cy="271.5" r="5.56"/>
<circle cx="460.5" cy="282.5" r="5.56"/>
<circle cx="451.5" cy="292.5" r="5.56"/>
<circle cx="442.5" cy="303.5" r="5.56"/>
<circle cx="433.5" cy="313.5" r="5.56"/>
<circle cx="424.5" cy="323.5" r="5.56"/>
<circle cx="415.5" cy="334.5" r="5.56"/>
<circle cx="407.5" cy="344.5" r="5.56"/>
<circle cx="398.5" cy="355.5" r="5.56"/>
<circle cx="389.5" cy="365.5" r="5.56"/>
<circle cx="380.5" cy="376.5" r="5.56"/>
<circle cx="371.5" cy="386.5" r="5.56"/>
<circle cx="362.5" cy="397.5" r="5.56"/>
<circle cx="353.5" cy="407.5" r="5.56"/>
<circle cx="475.5" cy="274.5" r="5.56"/>
<circle cx="472.5" cy="288.5" r="5.56"/>
<circle cx="469.5" cy="301.5" r="5.56"/>
<circle cx="466.5" cy="314.5" r="5.56"/>
<circle cx="463.5" cy="328.5" r="5.56"/>
<circle cx="460.5" cy="341.5" r="5.56"/>
<circle cx="456.5" cy="354.5" r="5.56"/>
<circle cx="453.5" cy="368.5" r="5.56"/>
<circle cx="450.5" cy="381.5" r="5.56"/>
<circle cx="447.5" cy="395.5" r="5.56"/>
<circle cx="444.5" cy="408.5" r="5.56"/>
<circle cx="441.5" cy="421.5" r="5.56"/>
<circle cx="438.5" cy="435.5" r="5.56"/>
<circle cx="435.5" cy="448.5" r="5.56"/>
<circle cx="432.5" cy="462.5" r="5.56"/>
<circle cx="429.5" cy="475.5" r="5.56"/>
<circle cx="426.5" cy="488.5" r="5.56"/>
<circle cx="423.5" cy="502.5" r="5.56"/>
<circle cx="420.5" cy="515.5" r="5.56"/>
<circle cx="417.5" cy="528.5" r="5.56"/>
<circle cx="414.5" cy="542.5" r="5.56"/>
<circle cx="411.5" cy="555.5" r="5.56"/>
<circle cx="482.5" cy="274.5" r="5.56"/>
<circle cx="487.5" cy="287.5" r="5.56"/>
<circle cx="491.5" cy="300.5" r="5.56"/>
<circle cx="496.5" cy="313.5" r="5.56"/>
<circle cx="500.5" cy="326.5" r="5.56"/>
<circle cx="505.5" cy="339.5" r="5.56"/>
<circle cx="509.5" cy="352.5" r="5.56"/>
<circle cx="514.5" cy="365.5" r="5.56"/>
<circle cx="518.5" cy="378.5" r="5.56"/>
<circle cx="523.5" cy="390.5" r="5.56"/>
<circle cx="527.5" cy="403.5" r="5.56"/>
<circle cx="531.5" cy="416.5" r="5.56"/>
<circle cx="536.5" cy="429.5" r="5.56"/>
<circle cx="540.5" cy="442.5" r="5.56"/>
<circle cx="545.5" cy="455.5" r="5.56"/>
<circle cx="549.5" cy="468.5" r="5.56"/>
<circle cx="554.5" cy="481.5" r="5.56"/>
<circle cx="558.5" cy="494.5" r="5.56"/>
<circle cx="563.5" cy="507.5" r="5.56"/>
<circle cx="567.5" cy="520.5" r="5.56"/>
<circle cx="572.5" cy="533.5" r="5.56"/>
<circle cx="576.5" cy="546.5" r="5.56"/>
<circle cx="581.5" cy="559.5" r="5.56"/>
<circle cx="585.5" cy="572.5" r="5.56"/>
<circle cx="590.5" cy="585.5" r="5.56"/>
<circle cx="594.5" cy="598.5" r="5.56"/>
<circle cx="599.5" cy="611.5" r="5.56"/>
<circle cx="603.5" cy="624.5" r="5.56"/>
<circle cx="608.5" cy="637.5" r="5.56"/>
<circle cx="612.5" cy="650.5" r="5.56"/>
<circle cx="489.5" cy="269.5" r="5.56"/>
<circle cx="500.5" cy="277.5" r="5.56"/>
<circle cx="511.5" cy="285.5" r="5.56"/>
<circle cx="522.5" cy="293.5" r="5.56"/>
<circle cx="533.5" cy="301.5" r="5.56"/>
<circle cx="544.5" cy="309.5" r="5.56"/>
<circle cx="555.5" cy="317.5" r="5.56"/>
<circle cx="566.5" cy="326.5" r="5.56"/>
<circle cx="577.5" cy="334.5" r="5.56"/>
<circle cx="588.5" cy="342.5" r="5.56"/>
<circle cx="600.5" cy="350.5" r="5.56"/>
<circle cx="611.5" cy="358.5" r="5.56"/>
<circle cx="622.5" cy="366.5" r="5.56"/>
<circle cx="633.5" cy="374.5" r="5.56"/>
<circle cx="644.5" cy="382.5" r="5.56"/>
<circle cx="655.5" cy="390.5" r="5.56"/>
<circle cx="666.5" cy="399.5" r="5.56"/>
<circle cx="677.5" cy="407.5" r="5.56"/>
<circle cx="688.5" cy="415.5" r="5.56"/>
<circle cx="699.5" cy="423.5" r="5.56"/>
<circle cx="710.5" cy="431.5" r="5.56"/>
<circle cx="721.5" cy="439.5" r="5.56"/>
<circle cx="732.5" cy="447.5" r="5.56"/>
<circle cx="744.5" cy="455.5" r="5.56"/>
<circle cx="755.5" cy="463.5" r="5.56"/>
<circle cx="766.5" cy="472.5" r="5.56"/>
<circle cx="777.5" cy="480.5" r="5.56"/>
<circle cx="788.5" cy="488.5" r="5.56"/>
<circle cx="799.5" cy="496.5" r="5.56"/>
<circle cx="810.5" cy="504.5" r="5.56"/>
<circle cx="821.5" cy="512.5" r="5.56"/>
<circle cx="832.5" cy="520.5" r="5.56"/>
<circle cx="491.5" cy="261.5" r="5.56"/>
<circle cx="505.5" cy="261.5" r="5.56"/>
<circle cx="519.5" cy="261.5" r="5.56"/>
<circle cx="533.5" cy="261.5" r="5.56"/>
<circle cx="546.5" cy="261.5" r="5.56"/>
<circle cx="560.5" cy="261.5" r="5.56"/>
<circle cx="574.5" cy="261.5" r="5.56"/>
<circle cx="588.5" cy="261.5" r="5.56"/>
<circle cx="601.5" cy="261.5" r="5.56"/>
<circle cx="615.5" cy="261.5" r="5.56"/>
<circle cx="629.5" cy="261.5" r="5.56"/>
<circle cx="642.5" cy="261.5" r="5.56"/>
<circle cx="656.5" cy="261.5" r="5.56"/>
<circle cx="670.5" cy="261.5" r="5.56"/>
<circle cx="684.5" cy="261.5" r="5.56"/>
<circle cx="697.5" cy="261.5" r="5.56"/>
<circle cx="711.5" cy="261.5" r="5.56"/>
<circle cx="725.5" cy="261.5" r="5.56"/>
<circle cx="739.5" cy="261.5" r="5.56"/>
<circle cx="752.5" cy="261.5" r="5.56"/>
<circle cx="766.5" cy="261.5" r="5.56"/>
<circle cx="780.5" cy="261.5" r="5.56"/>
<circle cx="793.5" cy="261.5" r="5.56"/>
<circle cx="807.5" cy="261.5" r="5.56"/>
<circle cx="821.5" cy="261.5" r="5.56"/>
<circle cx="835.5" cy="261.5" r="5.56"/>
<circle cx="489.5" cy="253.5" r="5.56"/>
<circle cx="500.5" cy="245.5" r="5.56"/>
<circle cx="511.5" cy="236.5" r="5.56"/>
<circle cx="522.5" cy="228.5" r="5.56"/>
<circle cx="533.5" cy="220.5" r="5.56"/>
<circle cx="544.5" cy="212.5" r="5.56"/>
<circle cx="555.5" cy="204.5" r="5.56"/>
<circle cx="566.5" cy="196.5" r="5.56"/>
<circle cx="577.5" cy="188.5" r="5.56"/>
<circle cx="588.5" cy="180.5" r="5.56"/>
<circle cx="600.5" cy="172.5" r="5.56"/>
<circle cx="611.5" cy="163.5" r="5.56"/>
<circle cx="622.5" cy="155.5" r="5.56"/>
<circle cx="633.5" cy="147.5" r="5.56"/>
<circle cx="644.5" cy="139.5" r="5.56"/>
<circle cx="482.5" cy="248.5" r="5.56"/>
<circle cx="487.5" cy="235.5" r="5.56"/>
<circle cx="491.5" cy="222.5" r="5.56"/>
<circle cx="496.5" cy="209.5" r="5.56"/>
<circle cx="500.5" cy="196.5" r="5.56"/>
<circle cx="505.5" cy="183.5" r="5.56"/>
<circle cx="509.5" cy="170.5" r="5.56"/>
<circle cx="514.5" cy="157.5" r="5.56"/>
<circle cx="475.5" cy="247.5" r="5.56"/>
<circle cx="472.5" cy="234.5" r="5.56"/>
<circle cx="469.5" cy="221.5" r="5.56"/>
<circle cx="466.5" cy="207.5" r="5.56"/>
<circle cx="463.5" cy="194.5" r="5.56"/>
<circle cx="469.5" cy="250.5" r="5.56"/>
<circle cx="460.5" cy="240.5" r="5.56"/>
<circle cx="451.5" cy="229.5" r="5.56"/>
<circle cx="442.5" cy="219.5" r="5.56"/>
<circle cx="466.5" cy="254.5" r="5.56"/>
<circle cx="453.5" cy="248.5" r="5.56"/>
<circle cx="441.5" cy="242.5" r="5.56"/>
<circle cx="429.5" cy="236.5" r="5.56"/>
<circle cx="417.5" cy="229.5" r="5.56"/>
<circle cx="464.5" cy="258.5" r="5.56"/>
<circle cx="451.5" cy="255.5" r="5.56"/>
<circle cx="437.5" cy="253.5" r="5.56"/>
<circle cx="424.5" cy="250.5" r="5.56"/>
<circle cx="410.5" cy="247.5" r="5.56"/>
<circle cx="464.5" cy="260.5" r="5.56"/>
<circle cx="450.5" cy="260.5" r="5.56"/>
<circle cx="437.5" cy="259.5" r="5.56"/>
<circle cx="423.5" cy="259.5" r="5.56"/>
<circle cx="409.5" cy="258.5" r="5.56"/>
<circle cx="395.5" cy="258.5" r="5.56"/>
</g>
</g>
<rect x="150" y="96" width="930" height="604" fill="none" stroke="#000" stroke-width="2.222"/>
<line x1="203" y1="700" x2="203" y2="710.000" stroke="#000" stroke-width="2.222"/>
<text y="741.44"><tspan x="169.74">−</tspan><tspan x="192.21">1.5</tspan></text>
<line x1="340" y1="700" x2="340" y2="710.000" stroke="#000" stroke-width="2.222"/>
<text y="741.44"><tspan x="307.74">−</tspan><tspan x="330.22">1.0</tspan></text>
<line x1="478" y1="700" x2="478" y2="710.000" stroke="#000" stroke-width="2.222"/>
<text y="741.44"><tspan x="444.90">−</tspan><tspan x="467.37">0.5</tspan></text>
<line x1="615" y1="700" x2="615" y2="710.000" stroke="#000" stroke-width="2.222"/>
<text x="593.42" y="741.44">0.0</text>
<line x1="752" y1="700" x2="752" y2="710.000" stroke="#000" stroke-width="2.222"/>
<text x="730.46" y="741.44">0.5</text>
<line x1="890" y1="700" x2="890" y2="710.000" stroke="#000" stroke-width="2.222"/>
<text x="867.01" y="741.44">1.0</text>
<line x1="1027" y1="700" x2="1027" y2="710.000" stroke="#000" stroke-width="2.222"/>
<text x="1004.96" y="741.44">1.5</text>
<line x1="150" y1="673" x2="140.000" y2="673" stroke="#000" stroke-width="2.222"/>
<text y="684.00"><tspan x="45.86">−</tspan><tspan x="68.33">1.00</tspan></text>
<line x1="150" y1="604" x2="140.000" y2="604" stroke="#000" stroke-width="2.222"/>
<text y="615.00"><tspan x="45.95">−</tspan><tspan x="68.42">0.75</tspan></text>
<line x1="150" y1="535" x2="140.000" y2="535" stroke="#000" stroke-width="2.222"/>
<text y="546.00"><tspan x="45.96">−</tspan><tspan x="68.43">0.50</tspan></text>
<line x1="150" y1="467" x2="140.000" y2="467" stroke="#000" stroke-width="2.222"/>
<text y="478.00"><tspan x="45.95">−</tspan><tspan x="68.42">0.25</tspan></text>
<line x1="150" y1="398" x2="140.000" y2="398" stroke="#000" stroke-width="2.222"/>
<text x="68.45" y="409.00">0.00</text>
<line x1="150" y1="329" x2="140.000" y2="329" stroke="#000" stroke-width="2.222"/>
<text x="69.42" y="340.00">0.25</text>
<line x1="150" y1="261" x2="140.000" y2="261" stroke="#000" stroke-width="2.222"/>
<text x="68.42" y="272.00">0.50</text>
<line x1="150" y1="192" x2="140.000" y2="192" stroke="#000" stroke-width="2.222"/>
<text x="69.42" y="203.00">0.75</text>
<line x1="150" y1="123" x2="140.000" y2="123" stroke="#000" stroke-width="2.222"/>
<text x="69.08" y="134.00">1.00</text>
<text x="616.20" y="780.56" text-anchor="middle">x</text>
<text transform="translate(28.19,398.64) rotate(-90)" text-anchor="middle">y</text>
<rect x="345.49" y="109.89" width="720.62" height="134.00" rx="5.56" ry="5.56" fill="#ffffff" fill-opacity="0.8" stroke="#cccccc" stroke-opacity="0.8" stroke-width="2.778"/>
<circle cx="384.5" cy="133.5" r="5.56" fill="#1f77b4"/>
<text x="433.90" y="143.00" textLength="576.13" lengthAdjust="spacing">Auxiliary points for the first training point</text>
<circle cx="384.5" cy="175.5" r="5.56" fill="#ff7f0e"/>
<text x="433.90" y="184.89" textLength="620.63" lengthAdjust="spacing">Auxiliary points for the second training point</text>
<circle cx="384.5" cy="217.5" r="5.56" fill="#2ca02c"/>
<text x="433.90" y="226.78" textLength="586.63" lengthAdjust="spacing">Auxiliary points for the third training point</text>
</svg></body></html>
